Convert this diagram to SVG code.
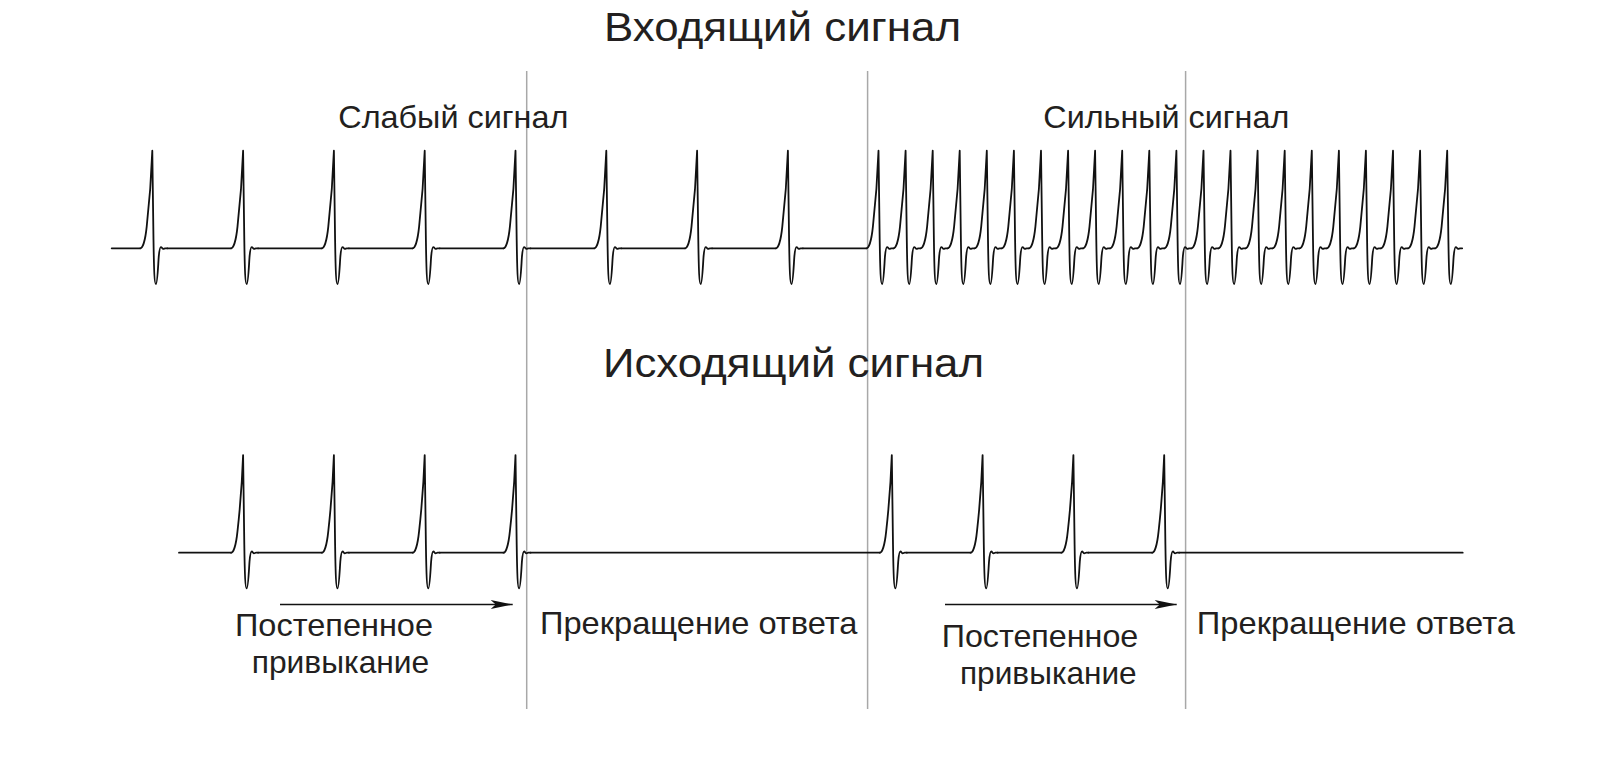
<svg xmlns="http://www.w3.org/2000/svg" width="1600" height="775" viewBox="0 0 1600 775">
<style>
.t{font-family:"Liberation Sans",Arial,sans-serif;fill:#231f20}
.ti{font-size:41.5px}
.lb{font-size:32px}
.trace{fill:none;stroke:#111;stroke-width:1.8;stroke-linejoin:round;stroke-linecap:round}
.sep{stroke:#a8a8a8;stroke-width:1.5}
.arr{stroke:#111;stroke-width:1.3;fill:none}
</style>
<defs>
<path id="spike" class="trace" d="M-12,0 C-9.5,0 -7,-8 -5.6,-21.6 C-4,-36 -1,-70 0,-97.6 L1.2,-8 C1.7,24 2.3,35.7 3.6,35.7 C5,35.7 5.6,21 6.4,9 C7,2 7.6,-1.2 8.6,-1.2 C9.6,-1.2 10,0.6 10.9,0.6 C11.7,0.6 12.1,0 12.9,0 L15,0"/>
<marker id="ah" markerUnits="userSpaceOnUse" markerWidth="24" markerHeight="12" refX="23" refY="5" orient="auto" viewBox="0 0 24 10">
<path d="M23,5 L1,0.5 L6,5 L1,9.5 Z" fill="#111"/>
</marker>
</defs>
<g id="separators">
<line class="sep" x1="526.7" y1="71" x2="526.7" y2="709"/>
<line class="sep" x1="867.6" y1="71" x2="867.6" y2="709"/>
<line class="sep" x1="1185.6" y1="71" x2="1185.6" y2="709"/>
</g>
<g id="titles">
<text class="t ti" x="604" y="41" textLength="357" lengthAdjust="spacingAndGlyphs">Входящий сигнал</text>
<text class="t ti" x="603" y="377" textLength="381" lengthAdjust="spacingAndGlyphs">Исходящий сигнал</text>
</g>
<g id="input-labels">
<text class="t lb" x="338.3" y="127.5" textLength="230" lengthAdjust="spacingAndGlyphs">Слабый сигнал</text>
<text class="t lb" x="1043.3" y="127.5" textLength="246" lengthAdjust="spacingAndGlyphs">Сильный сигнал</text>
</g>
<g id="input-trace">
<path class="trace" d="M111.7,248.3 H140.3 M167.3,248.3 H231.1 M258.1,248.3 H321.9 M348.9,248.3 H412.7 M439.7,248.3 H503.5 M530.5,248.3 H594.3 M621.3,248.3 H685.1 M712.1,248.3 H775.9 M802.9,248.3 H866.5"/>
<use href="#spike" x="152.3" y="248.3"/>
<use href="#spike" x="243.1" y="248.3"/>
<use href="#spike" x="333.9" y="248.3"/>
<use href="#spike" x="424.7" y="248.3"/>
<use href="#spike" x="515.5" y="248.3"/>
<use href="#spike" x="606.3" y="248.3"/>
<use href="#spike" x="697.1" y="248.3"/>
<use href="#spike" x="787.9" y="248.3"/>
<use href="#spike" x="878.5" y="248.3"/>
<use href="#spike" x="905.6" y="248.3"/>
<use href="#spike" x="932.7" y="248.3"/>
<use href="#spike" x="959.7" y="248.3"/>
<use href="#spike" x="986.8" y="248.3"/>
<use href="#spike" x="1013.9" y="248.3"/>
<use href="#spike" x="1041" y="248.3"/>
<use href="#spike" x="1068.1" y="248.3"/>
<use href="#spike" x="1095.1" y="248.3"/>
<use href="#spike" x="1122.2" y="248.3"/>
<use href="#spike" x="1149.3" y="248.3"/>
<use href="#spike" x="1176.4" y="248.3"/>
<use href="#spike" x="1203.5" y="248.3"/>
<use href="#spike" x="1230.5" y="248.3"/>
<use href="#spike" x="1257.6" y="248.3"/>
<use href="#spike" x="1284.7" y="248.3"/>
<use href="#spike" x="1311.8" y="248.3"/>
<use href="#spike" x="1338.9" y="248.3"/>
<use href="#spike" x="1365.9" y="248.3"/>
<use href="#spike" x="1393" y="248.3"/>
<use href="#spike" x="1420.1" y="248.3"/>
<use href="#spike" x="1447.2" y="248.3"/>
</g>
<g id="output-trace">
<path class="trace" d="M179,552.7 H231.1 M258.1,552.7 H321.9 M348.9,552.7 H412.7 M439.7,552.7 H503.5 M530.5,552.7 H879.8 M906.8,552.7 H970.6 M997.6,552.7 H1061.4 M1088.4,552.7 H1152.2 M1179.2,552.7 H1462.7"/>
<use href="#spike" x="243.1" y="552.7"/>
<use href="#spike" x="333.9" y="552.7"/>
<use href="#spike" x="424.7" y="552.7"/>
<use href="#spike" x="515.5" y="552.7"/>
<use href="#spike" x="891.8" y="552.7"/>
<use href="#spike" x="982.6" y="552.7"/>
<use href="#spike" x="1073.4" y="552.7"/>
<use href="#spike" x="1164.2" y="552.7"/>
</g>
<g id="connectors">
<line class="arr" x1="280" y1="604.5" x2="512.7" y2="604.5" marker-end="url(#ah)"/>
<line class="arr" x1="945" y1="604.5" x2="1176.7" y2="604.5" marker-end="url(#ah)"/>
</g>
<g id="habituation-left">
<text class="t lb" x="235" y="636" textLength="198" lengthAdjust="spacingAndGlyphs">Постепенное</text>
<text class="t lb" x="251.7" y="673" textLength="177.6" lengthAdjust="spacingAndGlyphs">привыкание</text>
</g>
<g id="stop-left">
<text class="t lb" x="540" y="634" textLength="317.5" lengthAdjust="spacingAndGlyphs">Прекращение ответа</text>
</g>
<g id="habituation-right">
<text class="t lb" x="941.7" y="647" textLength="196.6" lengthAdjust="spacingAndGlyphs">Постепенное</text>
<text class="t lb" x="960" y="684" textLength="176.7" lengthAdjust="spacingAndGlyphs">привыкание</text>
</g>
<g id="stop-right">
<text class="t lb" x="1196.8" y="634" textLength="318.2" lengthAdjust="spacingAndGlyphs">Прекращение ответа</text>
</g>
</svg>
